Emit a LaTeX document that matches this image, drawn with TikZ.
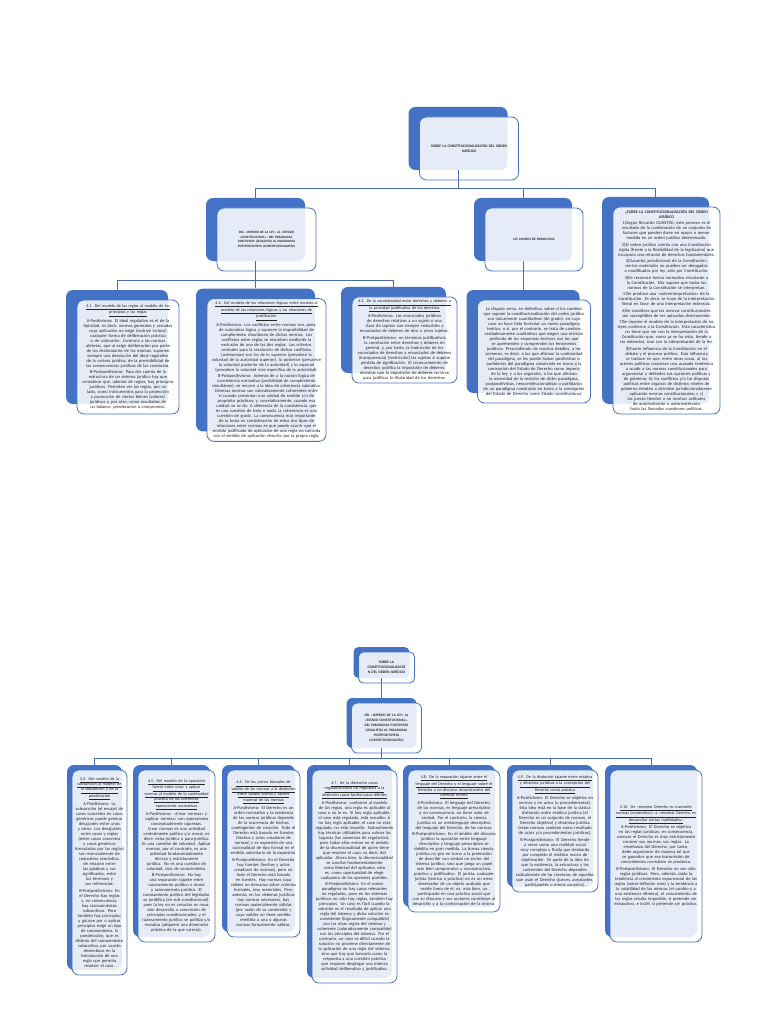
\documentclass[tikz,border=0pt]{standalone}
\usepackage{fontspec}
\setmainfont{Carlito}
\usetikzlibrary{positioning,shadows}

\definecolor{boxBlue}{HTML}{4472C4}
\definecolor{lineBlue}{HTML}{4A6DB0}
\definecolor{inkGrey}{HTML}{262626}
\newcommand{\mapfont}{\fontsize{4.5}{5.0}\selectfont\hyphenpenalty=10000\exhyphenpenalty=10000}
\newcommand{\headfont}[2]{\fontsize{#1}{#2}\selectfont\bfseries}
\newcommand{\gap}{\par\vspace{1.5pt}}
\newcommand{\uln}[1]{{\fontsize{4.2}{5.0}\selectfont\underline{#1}}}

\begin{document}
\begin{tikzpicture}[x=1pt,y=-1pt]
	\tikzstyle{mapBox} = [draw=boxBlue, line width=0.8pt, rounded corners=7pt, fill=white, fill opacity=0.87, text opacity=1, text=inkGrey, inner sep=3pt, align=center, font=\mapfont]
	\tikzstyle{topShade} = [general shadow={fill=boxBlue, fill opacity=1, shadow xshift=-11pt, shadow yshift=10pt}]
	\tikzstyle{lowShade} = [general shadow={fill=boxBlue, fill opacity=1, shadow xshift=-5pt, shadow yshift=5pt}]
	\tikzstyle{mapEdge} = [draw=lineBlue, line width=0.7pt]
	\tikzset{boxSize/.style n args={3}{minimum width=#1pt, minimum height=#2pt, text width=#3pt}}

	\path[fill=white, use as bounding box] (0,0) rectangle (768,1024);

	% first map
	\node[mapBox, topShade, boxSize={98}{63}{93}, font={\headfont{3.7}{4.5}}] (top) at (469,148.5)
		{SOBRE LA CONSTITUCIONALIZACIÓN DEL ORDEN\\JURÍDICO};
	\node[mapBox, topShade, boxSize={99}{63}{85}, font={\headfont{3.3}{4.6}}] (dg1) at (266.5,239.5)
		{DEL «IMPERIO DE LA LEY» AL «ESTADO\\CONSTITUCIONAL». DEL PARADIGMA\\POSITIVISTA (LEGALISTA) AL PARADIGMA\\POSTPOSITIVISTA (CONSTITUCIONALISTA)};
	\node[mapBox, topShade, boxSize={98}{63}{88}, font={\headfont{3.4}{4.4}}] (cp) at (534,239.5) {UN CAMBIO DE PARADIGMA};
	\node[mapBox, topShade, boxSize={107}{205}{99}] (sob) at (666.5,310.5)
		{{\headfont{3.9}{4.8}¿SOBRE LA CONSTITUCIONALIZACIÓN DEL ORDEN\\JURÍDICO}\gap
		1)Según Riccardo GUASTINI, este proceso es el resultado de la combinación de un conjunto de factores que pueden darse en mayor o menor medida en un orden jurídico determinado.\gap
		2)El orden jurídico cuenta con una Constitución rígida (frente a la flexibilidad de la legislación) que incorpora una relación de derechos fundamentales.\gap
		3)Garantía jurisdiccional de la Constitución: ciertos materiales no pueden ser derogados o modificados por ley, sólo por Constitución.\gap
		4)Se reconoce fuerza normativa vinculante a la Constitución. Ello supone que todas las normas de la Constitución se interpretan.\gap
		5)Se produce una «sobreinterpretación» de la Constitución. Es decir, se huye de la interpretación literal en favor de una interpretación extensiva.\gap
		6)Se considera que las normas constitucionales son susceptibles de ser aplicadas directamente.\gap
		7)Se impone el modelo de la interpretación de las leyes conforme a la Constitución. Esta característica no tiene que ver con la interpretación de la Constitución que, como ya se ha visto, tiende a ser extensiva, sino con la interpretación de la ley.\gap
		8)Fuerte influencia de la Constitución en el debate y el proceso político. Esta influencia se traduce en que, entre otras cosas, a) los actores políticos muestran una acusada tendencia a acudir a las normas constitucionales para argumentar y defender sus opciones políticas y de gobierno; b) los conflictos y/o las disputas políticas entre órganos de distintos niveles de gobierno tienden a dirimirse jurisdiccionalmente aplicando normas constitucionales; y c) los jueces tienden a no mostrar actitudes de autolimitación o autorrestricción hacia las llamadas cuestiones políticas.};
	\node[mapBox, topShade, boxSize={113}{103}{105}, on grid] (dis) [below=112pt of cp]
		{La disputa versa, en definitiva, sobre si los cambios que supone la constitucionalización del orden jurídico son únicamente cuantitativos (de grado), en cuyo caso no hace falta formular un nuevo paradigma teórico; o si, por el contrario, se trata de cambios verdaderamente cualitativos que exigen una revisión profunda de los esquemas teóricos con los que se aprehenden y comprenden los fenómenos jurídicos. Prescindiendo de muchos detalles, a los primeros, es decir, a los que afirman la continuidad del paradigma, se les puede llamar positivistas o partidarios del paradigma construido en torno a la concepción del Estado de Derecho como imperio de la ley; y a los segundos, a los que afirman la necesidad de la revisión de dicho paradigma, postpositivistas, neoconstitucionalistas o partidarios de un paradigma construido en torno a la concepción del Estado de Derecho como Estado constitucional.};
	\node[mapBox, topShade, boxSize={102}{114}{94}] (c41) at (128,357)
		{\uln{4.1. Del modelo de las reglas al modelo de los}\\\uln{principios y las reglas}\gap
		A-Positivismo: El ideal regulativo es el de la tipicidad, es decir, normas generales y cerradas cuya aplicación no exige (excluye incluso) cualquier forma de deliberación práctica o de valoración. Contraria a las normas abiertas, que al exigir deliberación por parte de los destinatarios de las mismas, suponen siempre una desviación del ideal regulativo de la certeza jurídica, de la previsibilidad de las consecuencias jurídicas de las conductas.\gap
		B-Postpositivismo: Para dar cuenta de la estructura de un sistema jurídico hay que considerar que, además de reglas, hay principios jurídicos. Permiten ver las reglas, por un lado, como instrumentos para la protección y promoción de ciertos bienes (valores) jurídicos y, por otro, como resultados de un balance, ponderación o compromiso.};
	\node[mapBox, topShade, boxSize={119}{140}{111}, on grid] (c42) [below=130.5pt of dg1]
		{\uln{4.2. Del modelo de las relaciones lógicas entre normas al}\\\uln{modelo de las relaciones lógicas y las relaciones de}\\\uln{justificación}\gap
		A-Positivismo: Los conflictos entre normas son, pues, de naturaleza lógica y suponen la imposibilidad de cumplimiento simultáneo de dichas normas. Los conflictos entre reglas se resuelven mediante la exclusión de una de las dos reglas. Los criterios centrales para la resolución de dichos conflictos (antinomias) son los de lo superior (prevalece la voluntad de la autoridad superior), lo posterior (prevalece la voluntad posterior de la autoridad) y lo especial (prevalece la voluntad más específica de la autoridad).\gap
		B-Postpositivismo: Además de a la noción lógica de consistencia normativa (posibilidad de cumplimiento simultáneo), se recurre a la idea de coherencia valorativa. Diversas normas son valorativamente coherentes entre sí cuando presentan una unidad de sentido y/o de propósito prácticos; y, correlativamente, cuando esa unidad no se da. A diferencia de la consistencia, que es una cuestión de todo o nada, la coherencia es una cuestión de grado. La consecuencia más importante de la toma en consideración de estos dos tipos de relaciones entre normas es que puede ocurrir que el sentido justificado de aplicación de una regla no coincida con el sentido de aplicación descrito por la propia regla.};
	\node[mapBox, topShade, boxSize={105}{80}{99}] (c43) at (404.5,340)
		{\uln{4.3. De la correlatividad entre derechos y deberes a}\\\uln{la prioridad justificativa de los derechos}\gap
		A-Positivismo: Los enunciados jurídicos de derechos relativos a un sujeto o una clase de sujetos son siempre reducibles a enunciados de deberes de otro u otros sujetos.\gap
		B-Postpositivismo: en términos justificativos la correlación entre derechos y deberes en general, y, por tanto, la traducción de los enunciados de derechos a enunciados de deberes (transparencia) (restricción) las sujetos sí supone pérdida de significación. El reconocimiento de derechos justifica la imposición de deberes, mientras que la imposición de deberes no sirve para justificar la titularidad de los derechos.};

	\foreach \c in {dg1,cp,sob}
		\draw[mapEdge] ([xshift=-11pt,yshift=10pt]top.south) -- ++(0,18) -| ([xshift=-11pt,yshift=10pt]\c.north);
	\foreach \c in {c41,c42,c43}
		\draw[mapEdge] ([xshift=-11pt,yshift=10pt]dg1.south) -- ++(0,19) -| ([xshift=-11pt,yshift=10pt]\c.north);
	\draw[mapEdge] ([xshift=-11pt,yshift=10pt]cp.south) -- ([xshift=-11pt,yshift=10pt]dis.north);

	% second map
	\node[mapBox, lowShade, rounded corners=5pt, boxSize={52}{31}{50}, font={\headfont{3.7}{4.9}}] (top2) at (386.5,667.5)
		{SOBRE LA\\CONSTITUCIONALIZACIÓ\\N DEL ORDEN JURÍDICO};
	\node[mapBox, lowShade, rounded corners=6pt, boxSize={68}{50}{64}, font={\headfont{3.5}{4.9}}, on grid] (dg2) [below=60.5pt of top2]
		{DEL «IMPERIO DE LA LEY» AL\\«ESTADO CONSTITUCIONAL».\\DEL PARADIGMA POSITIVISTA\\(LEGALISTA) AL PARADIGMA\\POSTPOSITIVISTA\\(CONSTITUCIONALISTA)};
	\node[mapBox, lowShade, boxSize={55}{205}{49}] (c44) at (99.5,872.5)
		{\uln{4.4. Del modelo de la}\\\uln{subsunción al modelo de}\\\uln{la subsunción y de la}\\\uln{ponderación}\gap
		A-Positivismo: La subsunción (el encaje) de casos concretos en casos genéricos puede generar desajustes entre unos y otros. Los desajustes entre casos y reglas (entre casos concretos y casos genéricos formulados por las reglas) son esencialmente de naturaleza semántica, de relación entre las palabras y sus significados, entre los términos y sus referencias.\gap
		B-Postpositivismo: En el Derecho hay reglas y, en consecuencia, hay razonamientos subsuntivos. Pero también hay principios; y guiarse por o aplicar principios exige un tipo de razonamiento, la ponderación, que es distinto del razonamiento subsuntivo, por cuanto desemboca en la formulación de una regla que permita resolver el caso.};
	\node[mapBox, lowShade, boxSize={77}{172}{70}] (c45) at (176.5,856)
		{\uln{4.5. Del modelo de la oposición}\\\uln{fuerte entre crear y aplicar}\\\uln{normas al modelo de la continuidad}\\\uln{práctica de las diferentes}\\\uln{operaciones normativas}\gap
		A-Positivismo: «Crear normas» y «aplicar normas» son operaciones conceptualmente opuestas. Crear normas es una actividad centralmente política y/o moral, es decir, extra-jurídica o para-jurídica. Es una cuestión de voluntad. Aplicar normas, por el contrario, es una actividad fundamentalmente técnica y estrictamente jurídica. No es una cuestión de voluntad, sino de conocimiento.\gap
		B-Postpositivismo: No hay una separación tajante entre razonamiento político o moral y razonamiento jurídico. El razonamiento político del legislador se juridifica (en sub constitucional), pues la ley no es creación ex nova, sino desarrollo o concreción de principios constitucionales; y el razonamiento jurídico se politiza y/o moraliza (adquiere una dimensión práctica de la que carecía).};
	\node[mapBox, lowShade, boxSize={73}{167}{66}] (c46) at (263.5,853.5)
		{\uln{4.6. De los juicios formales de}\\\uln{validez de las normas a la distinción}\\\uln{entre validez formal y validez}\\\uln{material de las normas}\gap
		A-Positivismo: El Derecho es un orden normativo y la existencia de las normas jurídicas depende de la ocurrencia de hechos contingentes de creación. Todo el Derecho está basado en fuentes (hechos y actos creadores de normas) y es expresión de una racionalidad de tipo formal en el sentido autoritario de la expresión.\gap
		B-Postpositivismo: En el Derecho hay fuentes (hechos y actos creadores de normas), pero no todo el Derecho está basado en fuentes. Hay normas cuya validez no descansa sobre criterios formales, sino materiales. Pero además, en los sistemas jurídicos hay normas necesarias, hay normas materialmente válidas (por razón de su contenido) y cuya validez no tiene sentido remitirla a una o algunas normas formalmente válidas.};
	\node[mapBox, lowShade, boxSize={85}{213}{78}] (c47) at (354.5,876.5)
		{\uln{4.7. De la distinción casos}\\\uln{regulados/casos no regulados a la}\\\uln{distinción casos fáciles/casos difíciles}\gap
		A-Positivismo: conforme al modelo de las reglas, una regla es aplicable al caso o no lo es. Si hay regla aplicable, el caso está regulado, está resuelto; si no hay regla aplicable, el caso no está regulado, no está resuelto. Naturalmente hay técnicas utilizables para colmar las lagunas (las ausencias de regulación), pero todas ellas entran en el ámbito de la discrecionalidad de quien tiene que resolver el caso, es decir, del aplicador. Ahora bien, la discrecionalidad se concibe fundamentalmente como libertad del aplicador, esto es, como oportunidad de elegir cualquiera de las opciones posibles.\gap
		B-Postpositivismo: En el nuevo paradigma no hay casos relevantes no regulados, pues en los sistemas jurídicos no sólo hay reglas, también hay principios. Un caso es fácil cuando la solución es el resultado de aplicar una regla del sistema y dicha solución es consistente (lógicamente compatible) con las otras reglas del sistema y coherente (valorativamente compatible) con los principios del sistema. Por el contrario, un caso es difícil cuando la solución no proviene directamente de la aplicación de una regla del sistema, sino que hay que buscarla como la respuesta a una cuestión práctica que requiere desplegar una intensa actividad deliberativa y justificativa.};
	\node[mapBox, lowShade, boxSize={92}{142}{85}] (c48) at (454,841)
		{\uln{4.8. De la separación tajante entre el}\\\uln{lenguaje del Derecho y el lenguaje sobre el}\\\uln{Derecho a un discurso reconstructivo del}\\\uln{Derecho mismo}\gap
		A-Positivismo: El lenguaje del Derecho, de las normas, es lenguaje prescriptivo y, en consecuencia, no tiene valor de verdad. Por el contrario, la ciencia jurídica es un metalenguaje descriptivo del lenguaje del Derecho, de las normas.\gap
		B-Postpositivismo: En el ámbito del discurso jurídico la oposición entre lenguaje descriptivo y lenguaje prescriptivo se debilita en gran medida. La buena ciencia jurídica no gira en torno a la pretensión de describir con verdad un sector del sistema jurídico, sino que juega un papel más bien comprensivo y reconstructivo, práctico y justificativo. El jurista, cualquier jurista (teórico o práctico) no es un mero observador de un objeto acabado que reside fuera de él, es, más bien, un participante en una práctica social que con su discurso y sus acciones contribuye al desarrollo y a la conformación de la misma.};
	\node[mapBox, lowShade, boxSize={86}{122}{79}] (c49) at (555,831)
		{\uln{4.9. De la distinción tajante entre estática}\\\uln{y dinámica jurídicas a la concepción del}\\\uln{Derecho como práctica}\gap
		A-Positivismo: El Derecho se objetiva en normas y en actos (o procedimientos). Esta idea está en la base de la clásica distinción entre estática jurídica (el Derecho es un conjunto de normas, el Derecho objetivo) y dinámica jurídica (estas normas cambian como resultado de actos y/o procedimientos jurídicos).\gap
		B-Postpositivismo: El Derecho tiende a verse como una realidad social muy compleja y fluida que desborda por completo el estático marco de objetivación. Se parte de la idea de que la existencia, la estructura y los contenidos del Derecho dependen radicalmente de las creencias de aquellos que usan el Derecho (jueces, aceptantes, participantes o meros usuarios).};
	\node[mapBox, lowShade, boxSize={92}{172}{85}] (c410) at (656,856)
		{\uln{4.10. De «enseñar Derecho es transmitir}\\\uln{normas (contenidos)» a «enseñar Derecho es}\\\uln{desarrollar ciertas habilidades»}\gap
		A-Positivismo: El Derecho se objetiva en las reglas jurídicas; en consecuencia, conocer el Derecho es muy estrictamente conocer sus normas, sus reglas. La enseñanza del Derecho, por tanto, debe organizarse de manera tal que se garantice que esa transmisión de conocimiento normativo se produzca.\gap
		B-Postpositivismo: El Derecho no son sólo reglas jurídicas. Pero, además, dada la tendencia al crecimiento exponencial de las reglas (sobre-inflación más) y la tendencia a la volatilidad de las mismas (el cambio y a una existencia efímera), el conocimiento de las reglas resulta imposible, si pretende ser exhaustivo, e inútil, si pretende ser práctico.};

	\draw[mapEdge] ([xshift=-5pt,yshift=5pt]top2.south) -- ([xshift=-5pt,yshift=5pt]dg2.north);
	\foreach \c in {c44,c45,c46,c47,c48,c49,c410}
		\draw[mapEdge] ([xshift=-5pt,yshift=5pt]dg2.south) -- ++(0,10) -| ([xshift=-5pt,yshift=5pt]\c.north);
\end{tikzpicture}
\end{document}
